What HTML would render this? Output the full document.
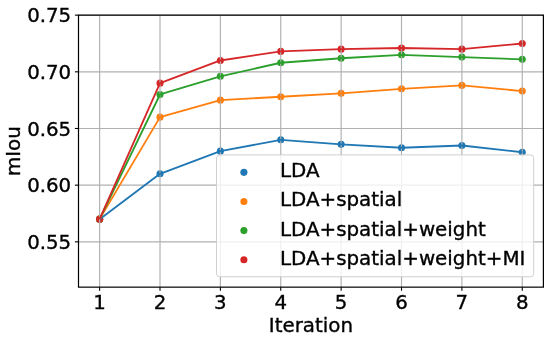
<!DOCTYPE html>
<html lang="en"><head><meta charset="utf-8"><title>mIou vs Iteration</title>
<style>html,body{margin:0;padding:0;background:#fff}svg{display:block}text{font-family:"DejaVu Sans","Liberation Sans",sans-serif;fill:#000;stroke:#000;stroke-width:0.35px}</style></head><body>
<svg width="550" height="337" viewBox="0 0 550 337">
<rect width="550" height="337" fill="#fff"/>
<defs><clipPath id="ax"><rect x="78.5" y="15.15" width="464.9" height="272.0"/></clipPath></defs>
<g clip-path="url(#ax)">
<circle cx="99.63" cy="219.15" r="3.55" fill="#1f77b4"/>
<circle cx="160.01" cy="173.82" r="3.55" fill="#1f77b4"/>
<circle cx="220.39" cy="151.15" r="3.55" fill="#1f77b4"/>
<circle cx="280.76" cy="139.82" r="3.55" fill="#1f77b4"/>
<circle cx="341.14" cy="144.35" r="3.55" fill="#1f77b4"/>
<circle cx="401.51" cy="147.75" r="3.55" fill="#1f77b4"/>
<circle cx="461.89" cy="145.48" r="3.55" fill="#1f77b4"/>
<circle cx="522.27" cy="152.28" r="3.55" fill="#1f77b4"/>
<circle cx="99.63" cy="219.15" r="3.55" fill="#ff7f0e"/>
<circle cx="160.01" cy="117.15" r="3.55" fill="#ff7f0e"/>
<circle cx="220.39" cy="100.15" r="3.55" fill="#ff7f0e"/>
<circle cx="280.76" cy="96.75" r="3.55" fill="#ff7f0e"/>
<circle cx="341.14" cy="93.35" r="3.55" fill="#ff7f0e"/>
<circle cx="401.51" cy="88.82" r="3.55" fill="#ff7f0e"/>
<circle cx="461.89" cy="85.42" r="3.55" fill="#ff7f0e"/>
<circle cx="522.27" cy="91.08" r="3.55" fill="#ff7f0e"/>
<circle cx="99.63" cy="219.15" r="3.55" fill="#2ca02c"/>
<circle cx="160.01" cy="94.48" r="3.55" fill="#2ca02c"/>
<circle cx="220.39" cy="76.35" r="3.55" fill="#2ca02c"/>
<circle cx="280.76" cy="62.75" r="3.55" fill="#2ca02c"/>
<circle cx="341.14" cy="58.22" r="3.55" fill="#2ca02c"/>
<circle cx="401.51" cy="54.82" r="3.55" fill="#2ca02c"/>
<circle cx="461.89" cy="57.08" r="3.55" fill="#2ca02c"/>
<circle cx="522.27" cy="59.35" r="3.55" fill="#2ca02c"/>
<circle cx="99.63" cy="219.15" r="3.55" fill="#d62728"/>
<circle cx="160.01" cy="83.15" r="3.55" fill="#d62728"/>
<circle cx="220.39" cy="60.48" r="3.55" fill="#d62728"/>
<circle cx="280.76" cy="51.42" r="3.55" fill="#d62728"/>
<circle cx="341.14" cy="49.15" r="3.55" fill="#d62728"/>
<circle cx="401.51" cy="48.02" r="3.55" fill="#d62728"/>
<circle cx="461.89" cy="49.15" r="3.55" fill="#d62728"/>
<circle cx="522.27" cy="43.48" r="3.55" fill="#d62728"/>
</g>
<g stroke="#b0b0b0" stroke-width="1.15" fill="none">
<line x1="99.63" y1="15.15" x2="99.63" y2="287.15"/>
<line x1="160.01" y1="15.15" x2="160.01" y2="287.15"/>
<line x1="220.39" y1="15.15" x2="220.39" y2="287.15"/>
<line x1="280.76" y1="15.15" x2="280.76" y2="287.15"/>
<line x1="341.14" y1="15.15" x2="341.14" y2="287.15"/>
<line x1="401.51" y1="15.15" x2="401.51" y2="287.15"/>
<line x1="461.89" y1="15.15" x2="461.89" y2="287.15"/>
<line x1="522.27" y1="15.15" x2="522.27" y2="287.15"/>
<line x1="78.5" y1="241.82" x2="543.4" y2="241.82"/>
<line x1="78.5" y1="185.15" x2="543.4" y2="185.15"/>
<line x1="78.5" y1="128.48" x2="543.4" y2="128.48"/>
<line x1="78.5" y1="71.82" x2="543.4" y2="71.82"/>
<line x1="78.5" y1="15.15" x2="543.4" y2="15.15"/>
</g>
<g clip-path="url(#ax)" fill="none" stroke-linejoin="round" stroke-linecap="butt">
<polyline points="99.63,219.15 160.01,173.82 220.39,151.15 280.76,139.82 341.14,144.35 401.51,147.75 461.89,145.48 522.27,152.28" stroke="#1f77b4" stroke-width="1.85"/>
<polyline points="99.63,219.15 160.01,117.15 220.39,100.15 280.76,96.75 341.14,93.35 401.51,88.82 461.89,85.42 522.27,91.08" stroke="#ff7f0e" stroke-width="1.85"/>
<polyline points="99.63,219.15 160.01,94.48 220.39,76.35 280.76,62.75 341.14,58.22 401.51,54.82 461.89,57.08 522.27,59.35" stroke="#2ca02c" stroke-width="1.85"/>
<polyline points="99.63,219.15 160.01,83.15 220.39,60.48 280.76,51.42 341.14,49.15 401.51,48.02 461.89,49.15 522.27,43.48" stroke="#d62728" stroke-width="1.85"/>
</g>
<g stroke="#000" stroke-width="1.1">
<line x1="99.63" y1="287.15" x2="99.63" y2="290.75"/>
<line x1="160.01" y1="287.15" x2="160.01" y2="290.75"/>
<line x1="220.39" y1="287.15" x2="220.39" y2="290.75"/>
<line x1="280.76" y1="287.15" x2="280.76" y2="290.75"/>
<line x1="341.14" y1="287.15" x2="341.14" y2="290.75"/>
<line x1="401.51" y1="287.15" x2="401.51" y2="290.75"/>
<line x1="461.89" y1="287.15" x2="461.89" y2="290.75"/>
<line x1="522.27" y1="287.15" x2="522.27" y2="290.75"/>
<line x1="74.9" y1="241.82" x2="78.5" y2="241.82"/>
<line x1="74.9" y1="185.15" x2="78.5" y2="185.15"/>
<line x1="74.9" y1="128.48" x2="78.5" y2="128.48"/>
<line x1="74.9" y1="71.82" x2="78.5" y2="71.82"/>
<line x1="74.9" y1="15.15" x2="78.5" y2="15.15"/>
</g>
<rect x="78.5" y="15.15" width="464.9" height="272.0" fill="none" stroke="#000" stroke-width="1.2"/>
<g font-size="19.8">
<text x="99.63" y="309.2" text-anchor="middle">1</text>
<text x="160.01" y="309.2" text-anchor="middle">2</text>
<text x="220.39" y="309.2" text-anchor="middle">3</text>
<text x="280.76" y="309.2" text-anchor="middle">4</text>
<text x="341.14" y="309.2" text-anchor="middle">5</text>
<text x="401.51" y="309.2" text-anchor="middle">6</text>
<text x="461.89" y="309.2" text-anchor="middle">7</text>
<text x="522.27" y="309.2" text-anchor="middle">8</text>
<text x="71.2" y="248.97" text-anchor="end">0.55</text>
<text x="71.2" y="192.30" text-anchor="end">0.60</text>
<text x="71.2" y="135.63" text-anchor="end">0.65</text>
<text x="71.2" y="78.97" text-anchor="end">0.70</text>
<text x="71.2" y="22.30" text-anchor="end">0.75</text>
</g>
<text x="310.95" y="332.0" font-size="19.85" text-anchor="middle">Iteration</text>
<text transform="translate(19.9 151.15) rotate(-90)" font-size="19.85" text-anchor="middle">mIou</text>
<rect x="216.5" y="154.9" width="317.20" height="121.90" rx="3.2" ry="3.2" fill="#fff" fill-opacity="0.8" stroke="#ccc" stroke-opacity="0.95" stroke-width="1"/>
<circle cx="243.9" cy="172.35" r="3.55" fill="#1f77b4"/>
<text x="280.0" y="177.35" font-size="19.85">LDA</text>
<circle cx="243.9" cy="201.48" r="3.55" fill="#ff7f0e"/>
<text x="280.0" y="206.48" font-size="19.85">LDA+spatial</text>
<circle cx="243.9" cy="230.61" r="3.55" fill="#2ca02c"/>
<text x="280.0" y="235.61" font-size="19.85">LDA+spatial+weight</text>
<circle cx="243.9" cy="259.74" r="3.55" fill="#d62728"/>
<text x="280.0" y="264.74" font-size="19.85">LDA+spatial+weight+MI</text>
</svg></body></html>
